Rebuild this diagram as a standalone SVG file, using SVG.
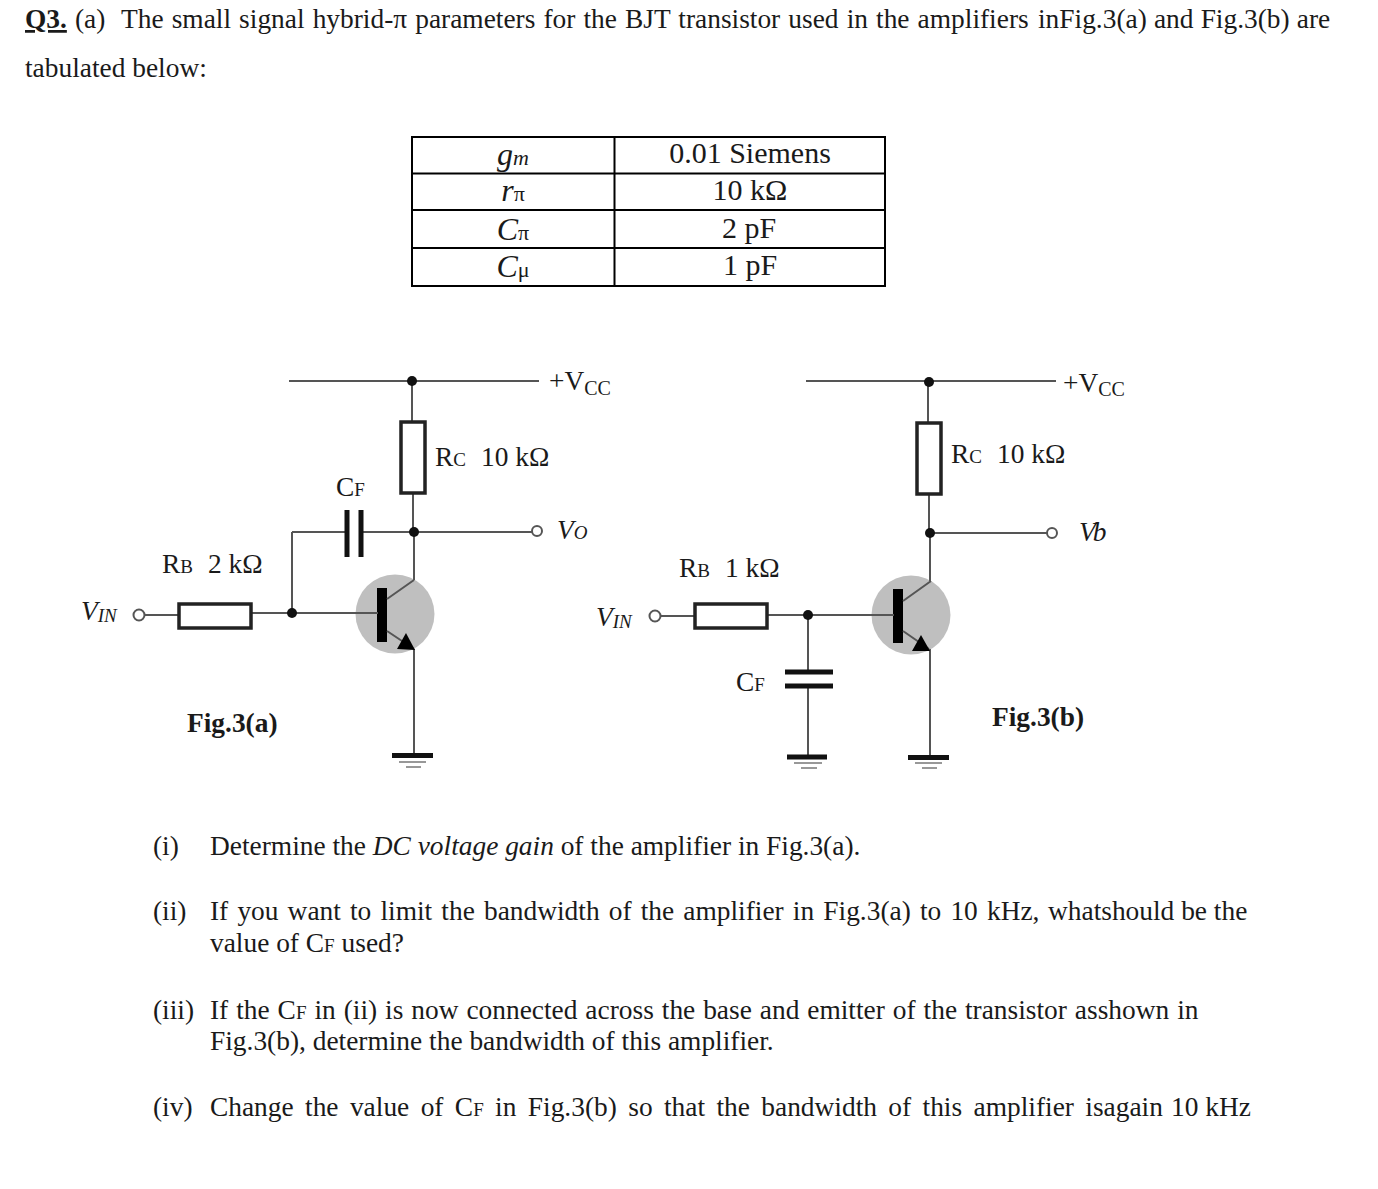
<svg xmlns="http://www.w3.org/2000/svg" width="1378" height="1189" viewBox="0 0 1378 1189">
<style>
text{font-family:"Liberation Serif","Times New Roman",serif;fill:#1a1a1a;font-size:27.4px}
.i{font-style:italic}
.bd{font-weight:bold}
.sub{font-size:19px}
.ts{font-size:22px}
.cc{font-size:20px}
.tb{font-size:30px;text-anchor:middle}
.tl{font-size:32px;text-anchor:middle;font-style:italic}
.w{stroke:#555;stroke-width:2;fill:none}
.r{stroke:#222;stroke-width:3.5;fill:#fff}
.p{stroke:#111;stroke-width:5;fill:none}
.g1{stroke:#777;stroke-width:1.5;fill:none}
.d{fill:#111}
.o{fill:#fff;stroke:#555;stroke-width:2}
.t{stroke:#000;stroke-width:2;fill:none}
.tr{fill:#bfbfbf}
</style>
<g id="question-head">
<text x="25" y="28" class="bd" text-decoration="underline">Q3.</text>
<text x="75" y="28">(a)</text>
<text x="121" y="28" word-spacing="1.25">The small signal hybrid-π parameters for the BJT transistor used in the amplifiers</text>
<text x="1038" y="28" word-spacing="0.3">inFig.3(a) and Fig.3(b) are</text>
<text x="25" y="77">tabulated below:</text>
</g>
<g id="table">
<rect x="412" y="137" width="473" height="149" fill="#fff" stroke="#000" stroke-width="2"/>
<path class="t" d="M614.500 137V286M412 173.500H885M412 210H885M412 248H885"/>
<text class="tl" x="513" y="165">g<tspan class="ts">m</tspan></text>
<text class="tl" x="513" y="201">r<tspan class="ts" font-style="normal">π</tspan></text>
<text class="tl" x="513" y="240">C<tspan class="ts" font-style="normal">π</tspan></text>
<text class="tl" x="513" y="277">C<tspan class="ts" font-style="normal">μ</tspan></text>
<text class="tb" x="750" y="163">0.01 Siemens</text>
<text class="tb" x="750" y="200">10 kΩ</text>
<text class="tb" x="749" y="238">2 pF</text>
<text class="tb" x="750" y="275">1 pF</text>
</g>
<g id="fig-a-transistor"><circle class="tr" cx="395" cy="614" r="39.500"/><rect x="377" y="588" width="10" height="54" fill="#000"/></g>
<g id="fig-b-transistor"><circle class="tr" cx="911" cy="615" r="39.500"/><rect x="893" y="589" width="10" height="54" fill="#000"/></g>
<g id="connectors">
<path class="w" d="M289 381H539M412 381V422M413 493V532M414 532V580M292 532H347M361 532H414M414 532H532M292 532V613M145 615H179M251 613H378M387 599L414 580M387 631L414 649M414 649V755"/>
<path class="w" d="M806 381H1056M928 381V423M929 495V533M930 533V581M930 533H1047M661 616H694M767 615H894M808 615V672M808 686V757M903 601L931 581M903 631L929 649M930 649V757"/>
<path d="M406 633L397 649L415 650Z" fill="#000"/>
<path d="M921 635L912 651L930 651Z" fill="#000"/>
</g>
<g id="fig-a-rc"><rect class="r" x="401" y="422" width="24" height="71"/><text x="435" y="466">R<tspan class="sub">C</tspan><tspan dx="15">10 kΩ</tspan></text></g>
<g id="fig-a-vcc"><circle class="d" cx="412" cy="381" r="5"/><text x="549" y="390">+V<tspan class="cc" dy="5">CC</tspan></text></g>
<g id="fig-a-out"><circle class="d" cx="414" cy="532" r="5"/><circle class="o" cx="537" cy="531" r="5"/><text x="557" y="539" class="i">V<tspan class="sub">O</tspan></text></g>
<g id="fig-a-cf"><path class="p" d="M347 510V557M361 510V557"/><text x="336" y="496">C<tspan class="sub">F</tspan></text></g>
<g id="fig-a-rb"><rect class="r" x="179" y="604" width="72" height="24"/><text x="162" y="573">R<tspan class="sub">B</tspan><tspan dx="15">2 kΩ</tspan></text><circle class="d" cx="292" cy="613" r="5"/></g>
<g id="fig-a-vin"><circle class="o" cx="139" cy="615" r="5.500"/><text x="81" y="620" class="i">V<tspan class="sub" dy="2">IN</tspan></text></g>
<g id="fig-a-gnd"><path class="p" d="M392 755.500H433"/><path class="g1" d="M399 762H426M406 767H421"/></g>
<g id="fig-a-label"><text x="187" y="732" class="bd">Fig.3(a)</text></g>
<g id="fig-b-rc"><rect class="r" x="917" y="423" width="24" height="71"/><text x="951" y="463">R<tspan class="sub">C</tspan><tspan dx="15">10 kΩ</tspan></text></g>
<g id="fig-b-vcc"><circle class="d" cx="929" cy="382" r="5"/><text x="1063" y="392">+V<tspan class="cc" dy="4">CC</tspan></text></g>
<g id="fig-b-out"><circle class="d" cx="930" cy="533" r="5"/><circle class="o" cx="1052" cy="533" r="5"/><text x="1079" y="541" class="i" letter-spacing="-3">Vb</text></g>
<g id="fig-b-cf"><path class="p" d="M785 672H833M785 686H833"/><text x="736" y="691">C<tspan class="sub">F</tspan></text></g>
<g id="fig-b-rb"><rect class="r" x="695" y="604" width="72" height="24"/><text x="679" y="577">R<tspan class="sub">B</tspan><tspan dx="15">1 kΩ</tspan></text><circle class="d" cx="808" cy="615" r="5"/></g>
<g id="fig-b-vin"><circle class="o" cx="655" cy="616" r="5.500"/><text x="596" y="626" class="i">V<tspan class="sub" dy="2">IN</tspan></text></g>
<g id="fig-b-gnd1"><path class="p" d="M787 757H827"/><path class="g1" d="M794 763H822M801 768H817"/></g>
<g id="fig-b-gnd2"><path class="p" d="M908 757.500H949"/><path class="g1" d="M915 763H942M922 768H937"/></g>
<g id="fig-b-label"><text x="992" y="726" class="bd">Fig.3(b)</text></g>
<g id="questions">
<text x="153" y="855">(i)</text>
<text x="210" y="855">Determine the <tspan class="i">DC voltage gain</tspan> of the amplifier in Fig.3(a).</text>
<text x="153" y="920">(ii)</text>
<text x="210" y="920" word-spacing="2.300">If you want to limit the bandwidth of the amplifier in Fig.3(a) to 10 kHz,</text>
<text x="1048" y="920">whatshould be the</text>
<text x="210" y="952">value of C<tspan class="sub">F</tspan> used?</text>
<text x="153" y="1019">(iii)</text>
<text x="210" y="1019" word-spacing="1.100">If the C<tspan class="sub">F</tspan> in (ii) is now connected across the base and emitter of the transistor asshown in</text>
<text x="210" y="1050">Fig.3(b), determine the bandwidth of this amplifier.</text>
<text x="153" y="1116">(iv)</text>
<text x="210" y="1116" word-spacing="4.550">Change the value of C<tspan class="sub">F</tspan> in Fig.3(b) so that the bandwidth of this amplifier isagain</text>
<text x="1171" y="1116">10 kHz</text>
</g>
</svg>
